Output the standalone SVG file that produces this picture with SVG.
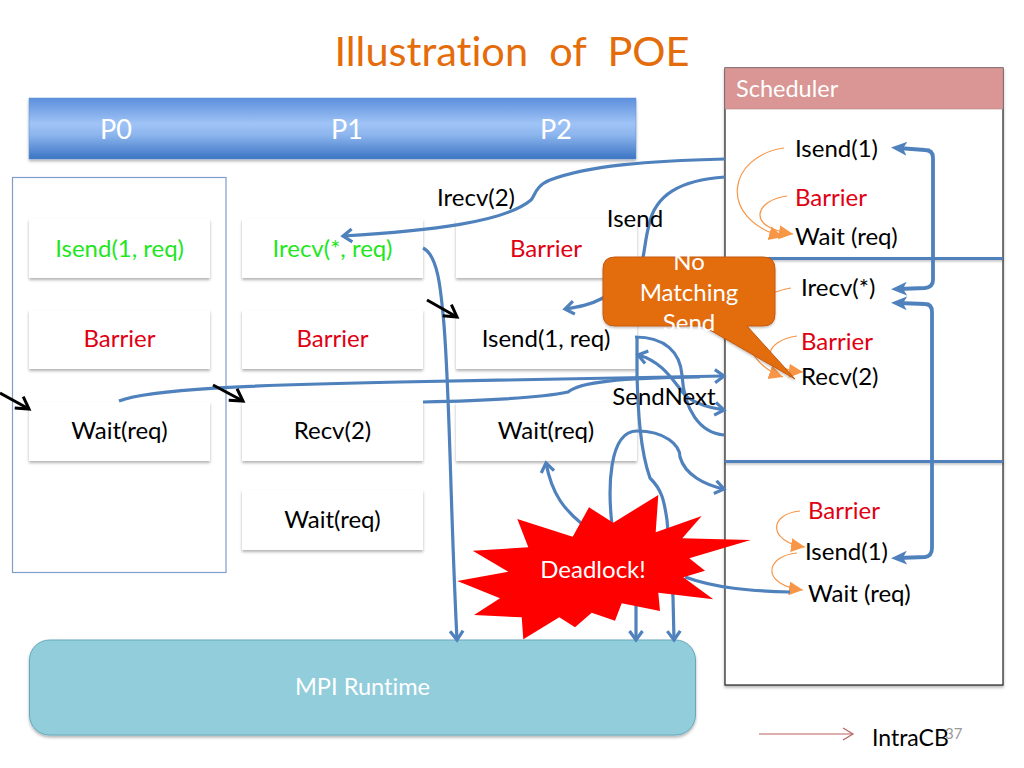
<svg xmlns="http://www.w3.org/2000/svg" width="1024" height="768" viewBox="0 0 1024 768">
<defs>
<linearGradient id="hdr" x1="0" y1="0" x2="0" y2="1"><stop offset="0" stop-color="#5c8fdc"/><stop offset="0.42" stop-color="#9fc3f6"/><stop offset="0.6" stop-color="#8db6ee"/><stop offset="1" stop-color="#3b74c4"/></linearGradient>
<filter id="sh" x="-10%" y="-10%" width="120%" height="125%"><feDropShadow dx="0" dy="2" stdDeviation="1.500" flood-color="#000" flood-opacity="0.300"/></filter>
<filter id="lsh" x="-5%" y="-5%" width="110%" height="110%"><feDropShadow dx="0" dy="1.500" stdDeviation="1" flood-color="#000" flood-opacity="0.250"/></filter>
<marker id="b" markerUnits="userSpaceOnUse" markerWidth="18" markerHeight="18" refX="13" refY="9" orient="auto-start-reverse"><path d="M4,2.500 L13,9 L4,15.500" fill="none" stroke="#4f81bd" stroke-width="3.200"/></marker>
<marker id="bf" markerUnits="userSpaceOnUse" markerWidth="22" markerHeight="18" refX="9" refY="9" orient="auto-start-reverse"><path d="M0,2 L16,9 L0,16 L4,9 Z" fill="#4f81bd"/></marker>
<marker id="k" markerUnits="userSpaceOnUse" markerWidth="20" markerHeight="20" refX="16" refY="10" orient="auto"><path d="M5,2 L16,10 L3,16" fill="none" stroke="#000" stroke-width="3"/></marker>
<marker id="o" markerUnits="userSpaceOnUse" markerWidth="18" markerHeight="18" refX="14" refY="8" orient="auto"><path d="M0,1 L14,8 L0,15 Z" fill="#f79646"/></marker>
<marker id="r" markerUnits="userSpaceOnUse" markerWidth="14" markerHeight="16" refX="11" refY="8" orient="auto"><path d="M1,2 L11,8 L1,14" fill="none" stroke="#b9615f" stroke-width="1.200"/></marker>
</defs>
<style>
text{font-family:Lato,"Open Sans",Arial,sans-serif;font-size:24px;fill:#000;text-anchor:middle;font-variant-ligatures:none}
.s{text-anchor:start}
.red{fill:#e00012}
.grn{fill:#1fe61f}
.w{fill:#fff}
.card{fill:#fff;filter:url(#sh)}
.bl{fill:none;stroke:#4f81bd;stroke-width:3.200}
.bt{fill:none;stroke:#4f81bd;stroke-width:3.800}
.or{fill:none;stroke:#f79646;stroke-width:1.200}
.ka{fill:none;stroke:#000;stroke-width:3;marker-end:url(#k)}
</style>
<rect width="1024" height="768" fill="#fff"/>
<text id="title" x="512" y="66" style="font-size:41.500px;fill:#e46c0a" xml:space="preserve">Illustration  of  POE</text>

<g id="header"><rect x="29" y="98" width="607" height="61" fill="url(#hdr)" stroke="#5f8fd0" stroke-width="0.500" filter="url(#sh)"/>
<text x="116" y="139" class="w" style="font-size:27px">P0</text><text x="347" y="139" class="w" style="font-size:27px">P1</text><text x="556" y="139" class="w" style="font-size:27px">P2</text></g>

<g id="p0box"><rect x="12.500" y="177.500" width="213.500" height="395" fill="#fff" stroke="#7f9ccb" stroke-width="1.200"/></g>
<g id="scheduler"><rect x="725" y="68" width="278" height="617" fill="#fff" stroke="#222" stroke-width="1.200" filter="url(#sh)"/>
<rect x="725" y="68" width="278" height="41" fill="#d99694" stroke="#b58583" stroke-width="0.600"/>
<text x="736" y="97" class="s w" style="font-size:23.500px">Scheduler</text></g>

<g id="n-p0-1"><rect class="card" x="29" y="219" width="181" height="59"/><text x="119.500" y="257" class="grn">Isend(1, req)</text></g>
<g id="n-p0-2"><rect class="card" x="29" y="310" width="181" height="59"/><text x="119.500" y="347" class="red">Barrier</text></g>
<g id="n-p0-3"><rect class="card" x="29" y="402" width="181" height="59"/><text x="119.500" y="439">Wait(req)</text></g>
<g id="n-p1-1"><rect class="card" x="242" y="219" width="181" height="59"/><text x="332.500" y="257" class="grn">Irecv(*, req)</text></g>
<g id="n-p1-2"><rect class="card" x="242" y="310" width="181" height="59"/><text x="332.500" y="347" class="red">Barrier</text></g>
<g id="n-p1-3"><rect class="card" x="242" y="402" width="181" height="59"/><text x="332.500" y="439">Recv(2)</text></g>
<g id="n-p1-4"><rect class="card" x="242" y="490" width="181" height="60"/><text x="332.500" y="528">Wait(req)</text></g>
<g id="n-p2-1"><rect class="card" x="456" y="219" width="181" height="59"/><text x="546" y="257" class="red">Barrier</text></g>
<g id="n-p2-2"><rect class="card" x="456" y="310" width="181" height="59"/><text x="546" y="347">Isend(1, req)</text></g>
<g id="n-p2-3"><rect class="card" x="456" y="402" width="181" height="59"/><text x="546" y="439">Wait(req)</text></g>

<g id="runtime"><rect x="29.500" y="640" width="666" height="95" rx="20" fill="#92cddc" stroke="#62a9bc" filter="url(#sh)"/><text x="362.500" y="695" class="w" style="font-size:23.600px">MPI Runtime</text></g>

<g id="sched-items">
<text x="795" y="157" class="s">Isend(1)</text>
<text x="795" y="206" class="s red">Barrier</text>
<text x="795" y="245" class="s">Wait (req)</text>
<text x="801" y="296" class="s">Irecv(*)</text>
<text x="801" y="350" class="s red">Barrier</text>
<text x="801" y="385" class="s">Recv(2)</text>
<text x="808" y="519" class="s red">Barrier</text>
<text x="805" y="560" class="s">Isend(1)</text>
<text x="808" y="602" class="s">Wait (req)</text>
</g>

<g id="connectors">
<path class="bl" filter="url(#lsh)" d="M725,258.500H1003M725,461.500H1003"/>
<path class="or" marker-end="url(#o)" d="M784,148 C728,156 716,218 783,237"/>
<path class="or" marker-end="url(#o)" d="M787,196 C755,200 745,228 793,234"/>
<path class="or" marker-end="url(#o)" d="M791,288 C730,298 735,360 783,377"/>
<path class="or" marker-end="url(#o)" d="M797,336 C765,340 755,368 803,372"/>
<path class="or" marker-end="url(#o)" d="M800,511 C768,514 768,542 805,547"/>
<path class="or" marker-end="url(#o)" d="M797,553 C765,556 760,585 803,590"/>

<path class="bt" marker-start="url(#bf)" marker-end="url(#bf)" d="M898,148 L925,150 Q933,150 933,158 L933,280 Q933,287 925,288 L898,289"/>
<path class="bt" marker-start="url(#bf)" marker-end="url(#bf)" d="M898,303 L925,304 Q932,304 932,312 L932,548 Q932,556 925,557 L898,558"/>

<path class="bl" marker-end="url(#b)" d="M725,159 C650,161 590,165 550,180 C535,186 535,196 531,200 C505,222 430,231 343,236"/>
<path class="bl" marker-end="url(#b)" d="M725,177 C680,180 655,195 649,225 C645,240 645,250 642,262 L603,298 C590,305 578,307 565,309"/>
<path class="bl" marker-end="url(#b)" d="M423,248 C438,255 441,290 444,325 C450,400 450,500 457,640"/>
<path class="bl" marker-end="url(#b)" d="M119,401 C150,389 250,385 400,382 L724,376"/>
<path class="bl" d="M423,402 C470,401 540,398 568,392 C580,382 620,378 700,377"/>
<path class="bl" d="M635,337 C665,337 680,352 682,375 C684,410 700,433 724,435"/>
<path class="bl" marker-start="url(#b)" marker-end="url(#b)" d="M638,355 C665,362 675,385 687,397 C697,404 710,408 724,410"/>
<path class="bl" marker-end="url(#b)" d="M637,337 L637,375 C638,410 640,450 650,478 C662,490 664,500 667,520 L673,597 L674,640"/>
<path class="bl" marker-end="url(#b)" d="M612,525 C608,490 608,431 637,431 C665,431 680,445 680,457 C685,475 705,485 724,489"/>
<path class="bl" marker-end="url(#b)" d="M636,560 L636,640"/>
<path class="bl" marker-end="url(#b)" d="M582,524 C565,510 552,495 546,463"/>
<path class="bl" d="M790,592 C750,591 715,588 685,577"/>

<path class="ka" d="M0,393 L29,409"/>
<path class="ka" d="M213,385 L243,401"/>
<path class="ka" d="M427,300 L457,317"/>

<path d="M759,734H853" fill="none" stroke="#b9615f" stroke-width="1.200" marker-end="url(#r)"/>
<text x="476" y="206">Irecv(2)</text>
<text x="635" y="227">Isend</text>
<text x="664" y="405">SendNext</text>
</g>

<g id="deadlock"><polygon fill="#ff0000" points="658.300,495 655.700,532.300 701.700,516 682.300,538.300 750.700,540 689.300,558.300 705,570.700 683.300,577.300 713.300,599.300 658.300,592.700 660,611 621.700,603.300 615,620.700 591.700,612.700 575,627.300 559.300,617.300 523.300,639.300 521.700,617.300 474,615 500,598.300 457.300,581 508.300,571.700 472.700,550.700 528.300,547.300 517.300,519 572.700,536.700 589,507.300 613.300,522.700"/>
<text x="593" y="578" class="w">Deadlock!</text></g>

<g id="callout"><path d="M615,257 H763 Q775,257 775,269 V314 Q775,326 763,326 H747 L795,379 L703,326 H615 Q603,326 603,314 V269 Q603,257 615,257 Z" fill="#e36c0a" stroke="#c55a11" stroke-width="1" filter="url(#lsh)"/>
<text x="689" y="270" class="w">No</text><text x="689" y="301" class="w">Matching</text><text x="689" y="331" class="w">Send</text></g>

<g id="legend"><text x="872" y="746" class="s" style="font-size:23px">IntraCB</text><text x="945" y="739" class="s" style="font-size:15px;fill:#999">37</text></g>
</svg>
